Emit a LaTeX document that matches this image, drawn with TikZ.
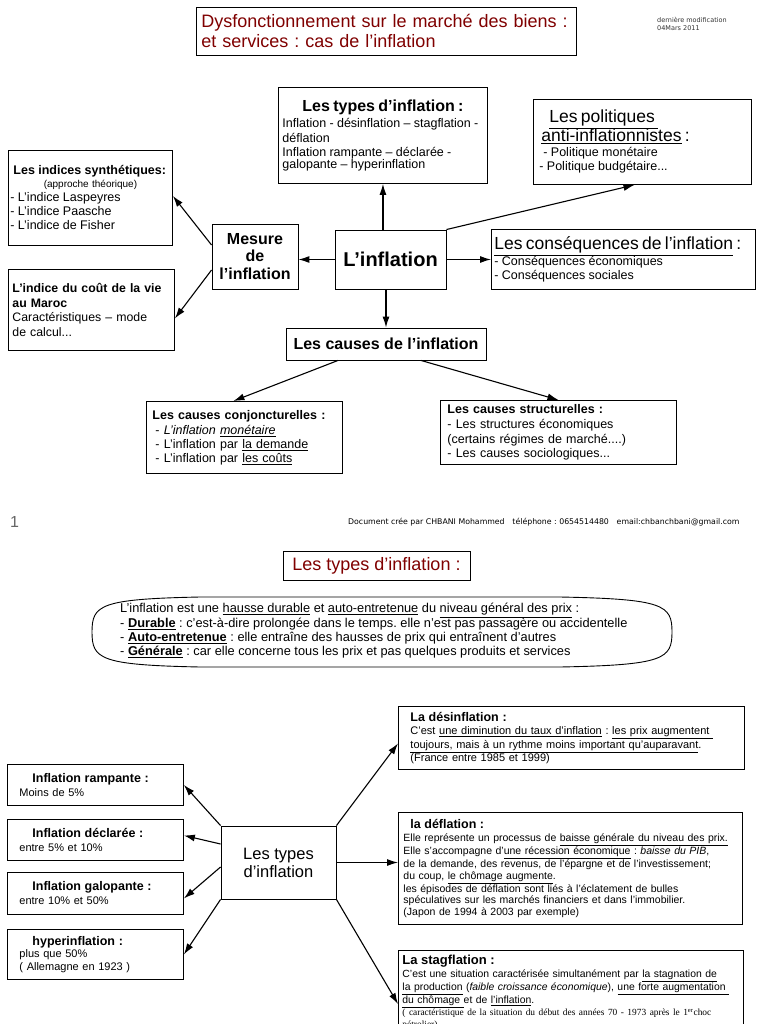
\documentclass[tikz,border=0pt]{standalone}
\usepackage{fontspec}
\setmainfont{Liberation Sans}
\newfontfamily\policeserif{Liberation Serif}
\newfontfamily\policecomic{DejaVu Sans}
\usepackage{tikz}
\usetikzlibrary{arrows.meta}
\frenchspacing

\definecolor{bordeaux}{RGB}{128,0,0}
\newcommand{\taille}[2]{\fontsize{#1}{#2}\selectfont}

\tikzset{
    boite/.style={draw, line width=0.9pt, anchor=north west, align=left, inner xsep=4pt, inner ysep=3pt},
    petite/.style={boite, inner xsep=12pt, text width=152pt, font=\taille{11}{14}},
    cadre/.style={draw, line width=0.9pt, align=center, inner sep=2pt},
    fleche/.style={line width=1.1pt, -{Latex[length=11pt,width=7pt]}}
}

\begin{document}
\begin{tikzpicture}[x=1pt, y=-1pt]
    \useasboundingbox (0,0) rectangle (768,1024);
    \fill[white] (0,0) rectangle (768,1024);

    \node[boite, inner xsep=5pt, text width=370pt, minimum height=48pt, text=bordeaux, font=\taille{18}{20}] (titre) at (196,7) {Dysfonctionnement sur le marché des biens :\\et services : cas de l'inflation};
    \node[anchor=north west, inner sep=0pt, align=left, text=black!80, font=\policecomic\taille{6.5}{8}] (date) at (657,17) {dernière modification\\04Mars 2011};

    \node[boite, text width=201pt, minimum height=96pt] (types) at (278,87) {\makebox[\linewidth][c]{\taille{16}{18}\bfseries Les types d'inflation :}\par\vspace{2pt}\taille{12.5}{14.5}Inflation - désinflation – stagflation -\\déflation\\Inflation rampante – déclarée -\\galopante – hyperinflation};
    \node[boite, inner xsep=6pt, text width=206pt, minimum height=85pt] (politiques) at (533,99) {{\taille{17.5}{19}\hspace*{10pt}\underline{Les politiques\ }\\\hspace*{2pt}\underline{anti-inflationnistes} :\par}\vspace{1pt}{\taille{12.5}{14}\hspace*{4pt}- Politique monétaire\\- Politique budgétaire...\par}};
    \node[boite, inner xsep=3pt, text width=258pt, minimum height=60pt] (consequences) at (491,229) {{\taille{17.5}{19}\underline{Les conséquences de l'inflation} :\par}{\taille{12.5}{14}- Conséquences économiques\\- Conséquences sociales\par}};

    \node[cadre, minimum width=111pt, minimum height=59pt, font=\taille{20}{22}\bfseries] (inflation) at (390.5,259.5) {L'inflation};
    \node[cadre, minimum width=86pt, minimum height=65pt, font=\taille{16}{17.5}\bfseries] (mesure) at (255,256.5) {Mesure\\de\\l'inflation};
    \node[cadre, minimum width=200pt, minimum height=32pt, font=\taille{16}{18}\bfseries] (causes) at (386,344) {Les causes de l'inflation};

    \node[boite, inner xsep=2pt, text width=160pt, minimum height=95pt] (indices) at (8,150) {{\taille{12.5}{14}\bfseries\hspace*{3pt}Les indices synthétiques:\par}{\taille{10}{13}\makebox[\linewidth][c]{(approche théorique)}\par}{\taille{12.5}{14}- L'indice Laspeyres\\- L'indice Paasche\\- L'indice de Fisher\par}};
    \node[boite, inner xsep=4pt, text width=158pt, minimum height=81pt, font=\taille{12.3}{14.5}] (maroc) at (8,269) {\textbf{L'indice du coût de la vie}\\\textbf{au Maroc}\\Caractéristiques – mode\\de calcul...};
    \node[boite, inner xsep=6pt, text width=184pt, minimum height=72pt, font=\taille{12.5}{14}] (conjoncturelles) at (146,401) {{\bfseries Les causes conjoncturelles :\par}\vspace{1pt}\hspace*{3pt}- \textit{L'inflation \underline{monétaire}}\\\hspace*{3pt}- L'inflation par \underline{la demande}\\\hspace*{3pt}- L'inflation par \underline{les coûts}};
    \node[boite, inner xsep=7pt, text width=222pt, minimum height=64pt, font=\taille{12.5}{14.5}] (structurelles) at (440,400) {{\bfseries Les causes structurelles :\par}\vspace{1pt}- Les structures économiques\\(certains régimes de marché....)\\- Les causes sociologiques...};

    \draw[fleche] (inflation.north -| types.south) -- (types.south);
    \draw[fleche] (inflation.north east) -- ([xshift=-8pt]politiques.south);
    \draw[fleche] (inflation.east) -- (inflation.east -| consequences.west);
    \draw[fleche] (inflation.west) -- (inflation.west -| mesure.east);
    \draw[fleche] (inflation.south -| causes.north) -- (causes.north);
    \draw[fleche] ([yshift=11.5pt]mesure.west) -- ([yshift=2pt]indices.east);
    \draw[fleche] ([yshift=-13.5pt]mesure.west) -- ([yshift=-8.5pt]maroc.east);
    \draw[fleche] ([xshift=-48pt]causes.south) -- ([xshift=-11pt]conjoncturelles.north);
    \draw[fleche] ([xshift=35pt]causes.south) -- (structurelles.north);

    \node[anchor=west, inner sep=0pt, text=black!60, font=\taille{16}{18}] (page) at (10,522) {1};
    \node[anchor=west, inner sep=0pt, font=\policecomic\taille{7.8}{9}] (auteur) at (348,522) {Document crée par CHBANI Mohammed\quad téléphone : 0654514480\quad email:chbanchbani@gmail.com};

    \node[draw, line width=0.9pt, minimum width=187pt, minimum height=29pt, text=bordeaux, font=\taille{18}{20}] (titretypes) at (376.5,565.5) {Les types d'inflation :};
    \draw[line width=0.9pt] (92,632) .. controls (92,605) and (100,599) .. (200,597) -- (560,597) .. controls (664,599) and (672,605) .. (672,632) .. controls (672,659) and (664,665) .. (560,667) -- (200,667) .. controls (100,665) and (92,659) .. (92,632) -- cycle;
    \node[anchor=west, align=left, inner sep=0pt, font=\taille{12.8}{14}] (definition) at (120,631) {L'inflation est une \underline{hausse durable} et \underline{auto-entretenue} du \underline{niveau général des prix} :\\- \underline{\textbf{Durable}} : c'est-à-dire prolongée dans le temps. elle n'est pas passagère ou accidentelle\\- \underline{\textbf{Auto-entretenue}} : elle entraîne des hausses de prix qui entraînent d'autres\\- \underline{\textbf{Générale}} : car elle concerne tous les prix et pas quelques produits et services};

    \node[cadre, minimum width=115pt, minimum height=73pt, font=\taille{16.5}{18}] (types2) at (278.5,862.5) {Les types\\d'inflation};

    \node[petite, minimum height=41pt] (rampante) at (7,764) {\hspace*{13pt}{\taille{12.5}{14}\bfseries Inflation rampante :}\\Moins de 5\%};
    \node[petite, minimum height=41pt] (declaree) at (7,819) {\hspace*{13pt}{\taille{12.5}{14}\bfseries Inflation déclarée :}\\entre 5\% et 10\%};
    \node[petite, minimum height=42pt] (galopante) at (7,872) {\hspace*{13pt}{\taille{12.5}{14}\bfseries Inflation galopante :}\\entre 10\% et 50\%};
    \node[petite, minimum height=50pt, font=\taille{11}{12.5}] (hyper) at (7,929) {\hspace*{13pt}{\taille{12.5}{14}\bfseries hyperinflation :}\\plus que 50\%\\( Allemagne en 1923 )};

    \node[boite, inner xsep=12pt, text width=322pt, minimum height=63pt, font=\taille{11}{13.5}] (desinflation) at (398,706) {{\taille{12.5}{14}\bfseries La désinflation :\par}C'est \underline{une diminution du taux d'inflation} : \underline{les prix augmentent\ }\\\underline{toujours, mais à un rythme moins important qu'auparavant}.\\(France entre 1985 et 1999)};
    \node[boite, inner xsep=5pt, text width=334pt, minimum height=112pt, font=\taille{10.5}{11.6}] (deflation) at (398,812) {{\taille{12.5}{14}\bfseries\hspace*{7pt}la déflation :\par}\vspace{2pt}Elle représente un processus de \underline{baisse générale du niveau des prix.}\\Elle s'accompagne d'\underline{une récession économique} : \textit{baisse du PIB},\\de la demande, des revenus, de l'épargne et de l'investissement;\\du coup, \underline{le chômage augmente}.\\les épisodes de déflation sont liés à l'éclatement de bulles\\spéculatives sur les marchés financiers et dans l'immobilier.\\(Japon de 1994 à 2003 par exemple)};
    \node[boite, inner xsep=4pt, inner ysep=5pt, text width=337pt, font=\taille{10.4}{13}] (stagflation) at (398,950) {{\taille{13}{15}\bfseries La stagflation :\par}C'est une situation caractérisée simultanément par \underline{la stagnation de}\\\underline{la production} (\textit{faible croissance économique}), \underline{une forte augmentation\ }\\\underline{du chômage\ }et de \underline{l'inflation}.\par{\policeserif\taille{9.4}{12}( caractéristique de la situation du début des années 70 - 1973 après le 1\textsuperscript{er}choc\\pétrolier)\par}};

    \draw[fleche] (types2.north west) -- (rampante.east);
    \draw[fleche] ([yshift=18.5pt]types2.west) -- ([yshift=4.5pt]declaree.east);
    \draw[fleche] ([yshift=-4.5pt]types2.west) -- ([yshift=-5pt]galopante.east);
    \draw[fleche] (types2.south west) -- (hyper.east);
    \draw[fleche] (types2.north east) -- ([yshift=-5.5pt]desinflation.west);
    \draw[fleche] (types2.east) -- (types2.east -| deflation.west);
    \draw[fleche] (types2.south east) -- ([yshift=-54pt]stagflation.north west);
\end{tikzpicture}
\end{document}
